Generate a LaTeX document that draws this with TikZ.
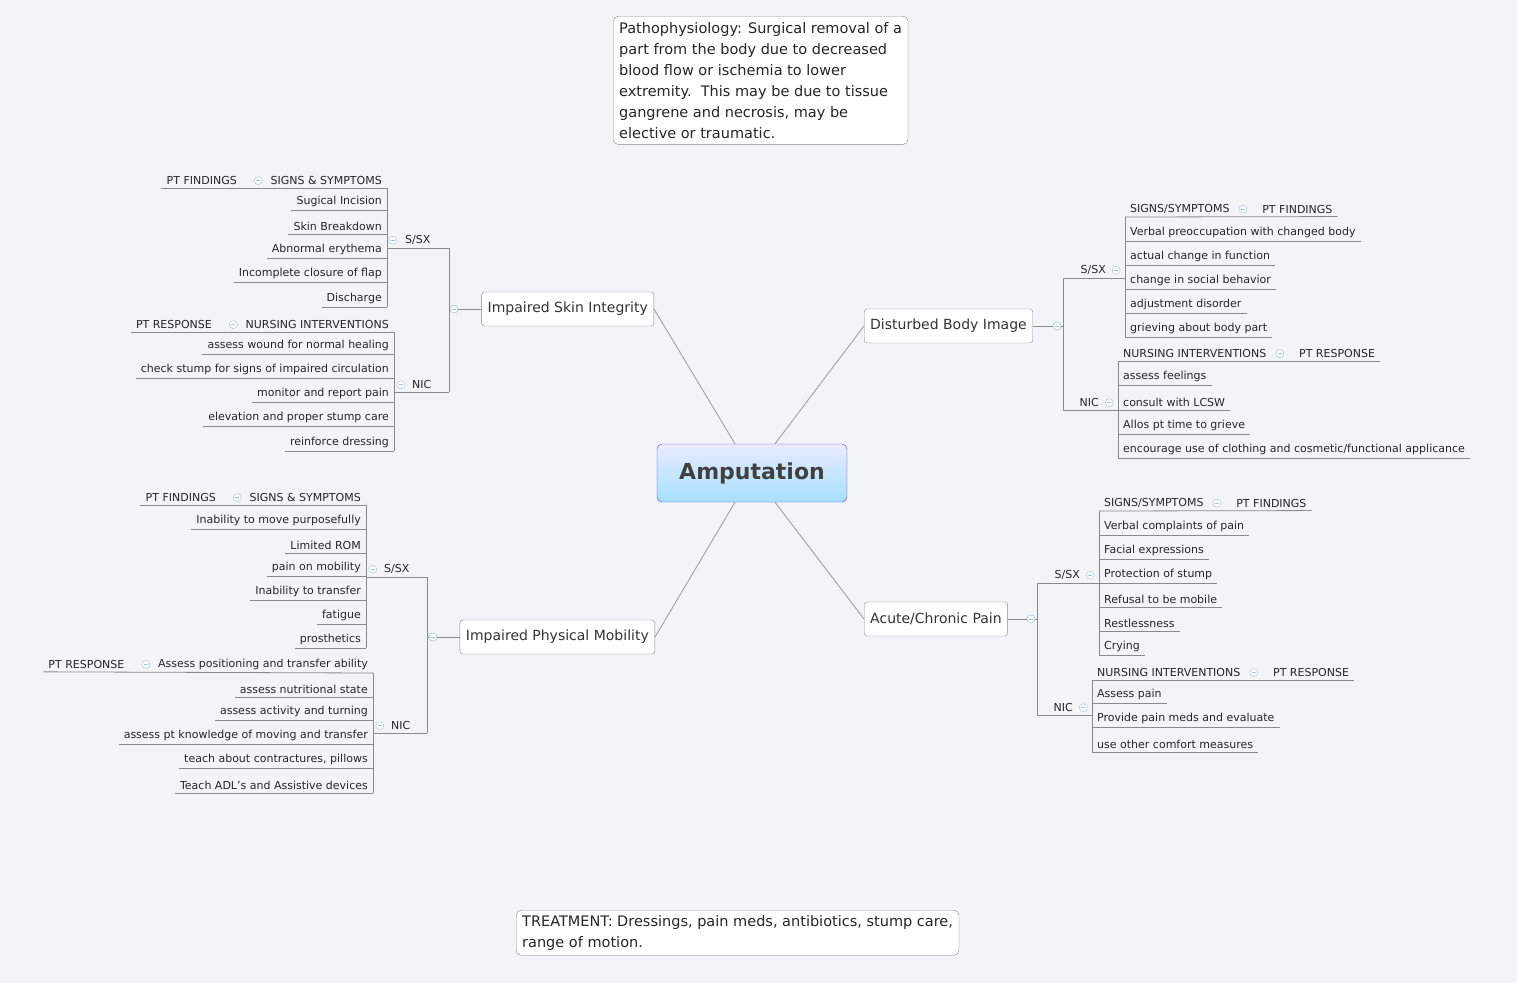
\documentclass[tikz,border=0pt]{standalone}
\usepackage{fontspec}
\setmainfont{DejaVu Sans}
\usetikzlibrary{positioning}
\definecolor{bg}{HTML}{F2F4F8}
\definecolor{ln}{HTML}{8A8A8A}
\definecolor{dotc}{HTML}{9DBFE3}
\tikzset{
  uline/.style={draw=ln, line width=0.8pt},
  link/.style={draw=ln!80, line width=0.9pt},
  hdr/.style={inner xsep=5pt, inner ysep=3pt, font=\fontsize{11}{13}\selectfont, text=black!85},
  leaf/.style={hdr, append after command={(\tikzlastnode.south west) edge[uline] (\tikzlastnode.south east)}},
  tag/.style={hdr},
  dot/.style={circle, draw=dotc, fill=white, minimum size=8pt, inner sep=0pt,
    path picture={\draw[dotc, line width=0.8pt] ([xshift=-2pt]path picture bounding box.center) -- ([xshift=2pt]path picture bounding box.center);}},
  box/.style={rectangle, rounded corners=3pt, draw=ln, fill=white, minimum height=34pt,
    inner xsep=6pt, font=\fontsize{14}{16}\selectfont, text=black!80},
  note/.style={rectangle, rounded corners=5pt, draw=ln, fill=white, align=left,
    inner sep=6pt, font=\fontsize{14.5}{21}\selectfont, text=black!85},
  root/.style={rectangle, rounded corners=5pt, draw=blue!40!gray, top color=blue!8, bottom color=blue!35!cyan!35,
    minimum width=190pt, minimum height=58pt, font=\fontsize{22}{24}\selectfont\bfseries, text=black!75}
}
\begin{document}
\begin{tikzpicture}[x=1pt, y=-1pt]
\useasboundingbox[fill=bg] (0,0) rectangle (1517,983);

\node[note, anchor=north west] (patho) at (613,16) {Pathophysiology: Surgical removal of a\\part from the body due to decreased\\blood flow or ischemia to lower\\extremity.\ \ This may be due to tissue\\gangrene and necrosis, may be\\elective or traumatic.};
\node[note, anchor=north west, inner ysep=5pt] (treat) at (516,910) {TREATMENT: Dressings, pain meds, antibiotics, stump care,\\range of motion.};

\node[root] (amp) at (752,473) {Amputation};

% Impaired Skin Integrity
\node[box, anchor=east] (sk) at (654,309) {Impaired Skin Integrity};
\coordinate (skj) at (449,309);
\node[dot] (skd) at (454,309) {};
\node[hdr, anchor=south east] (skh2) at (387,188) {SIGNS \& SYMPTOMS};
\node[dot, left=3pt of skh2] (skhd) {};
\node[hdr, left=12pt of skhd] (skh1) {PT FINDINGS};
\draw[uline] (skh1.south west) -- (skh2.south east);
\foreach \t/\y in {Sugical Incision/210, Skin Breakdown/234, Abnormal erythema/258,
  Incomplete closure of flap/282, Discharge/307}
  \node[leaf, anchor=south east] (sk\y) at (387,\y) {\t};
\draw[uline] (skh2.south east) -- (sk307.south east);
\node[tag, anchor=south west] (sks) at (400,248) {S/SX};
\node[dot, left=3pt of sks] (sksd) {};
\draw[uline] (skh2.south east |- sks.south) -- (skj |- sks.south);
\node[hdr, anchor=south east] (skm2) at (394,332) {NURSING INTERVENTIONS};
\node[dot, left=3pt of skm2] (skmd) {};
\node[hdr, left=12pt of skmd] (skm1) {PT RESPONSE};
\draw[uline] (skm1.south west) -- (skm2.south east);
\foreach \t/\y in {assess wound for normal healing/354, check stump for signs of impaired circulation/378,
  monitor and report pain/402, elevation and proper stump care/426, reinforce dressing/451}
  \node[leaf, anchor=south east] (sk\y) at (394,\y) {\t};
\draw[uline] (skm2.south east) -- (sk451.south east);
\node[tag, anchor=south west] (skn) at (407,392) {NIC};
\node[dot, left=2pt of skn] (sknd) {};
\draw[uline] (skm2.south east |- skn.south) -- (skj |- skn.south);
\draw[uline] (skj |- sks.south) -- (skj |- skn.south);
\draw[uline] (skj) -- (sk.west);

% Impaired Physical Mobility
\node[box, anchor=east] (pm) at (655,637) {Impaired Physical Mobility};
\coordinate (pmj) at (427,637);
\node[dot] (pmd) at (433,637) {};
\node[hdr, anchor=south east] (pmh2) at (366,505) {SIGNS \& SYMPTOMS};
\node[dot, left=3pt of pmh2] (pmhd) {};
\node[hdr, left=12pt of pmhd] (pmh1) {PT FINDINGS};
\draw[uline] (pmh1.south west) -- (pmh2.south east);
\foreach \t/\y in {Inability to move purposefully/529, Limited ROM/553, pain on mobility/576,
  Inability to transfer/600, fatigue/624, prosthetics/648}
  \node[leaf, anchor=south east] (pm\y) at (366,\y) {\t};
\draw[uline] (pmh2.south east) -- (pm648.south east);
\node[tag, anchor=south west] (pms) at (379,577) {S/SX};
\node[dot, left=2pt of pms] (pmsd) {};
\draw[uline] (pmh2.south east |- pms.south) -- (pmj |- pms.south);
\node[hdr, anchor=south east] (pmm2) at (373,673) {Assess positioning and transfer ability};
\node[dot, left=3pt of pmm2] (pmmd) {};
\node[hdr, left=12pt of pmmd] (pmm1) {PT RESPONSE};
\draw[uline] (pmm1.south west) -- (pmm2.south east);
\foreach \t/\y in {assess nutritional state/697, assess activity and turning/720,
  assess pt knowledge of moving and transfer/744, {teach about contractures, pillows}/768,
  Teach ADL's and Assistive devices/793}
  \node[leaf, anchor=south east] (pm\y) at (373,\y) {\t};
\draw[uline] (pmm2.south east) -- (pm793.south east);
\node[tag, anchor=south west] (pmn) at (386,733) {NIC};
\node[dot, left=2pt of pmn] (pmnd) {};
\draw[uline] (pmm2.south east |- pmn.south) -- (pmj |- pmn.south);
\draw[uline] (pmj |- pms.south) -- (pmj |- pmn.south);
\draw[uline] (pmj) -- (pm.west);

% Disturbed Body Image
\node[box, anchor=west] (bi) at (864,326) {Disturbed Body Image};
\coordinate (bij) at (1063,326);
\node[dot] (bid) at (1057,326) {};
\node[hdr, anchor=south west] (bih1) at (1125,217) {SIGNS/SYMPTOMS};
\node[dot, right=4pt of bih1] (bihd) {};
\node[hdr, right=10pt of bihd] (bih2) {PT FINDINGS};
\draw[uline] (bih1.south west) -- (bih2.south east);
\foreach \t/\y in {Verbal preoccupation with changed body/241, actual change in function/265,
  change in social behavior/289, adjustment disorder/313, grieving about body part/337}
  \node[leaf, anchor=south west] (bi\y) at (1125,\y) {\t};
\draw[uline] (bih1.south west) -- (bi337.south west);
\node[tag, anchor=south east] (bis) at (1111,278) {S/SX};
\node[dot, right=1pt of bis] (bisd) {};
\draw[uline] (bij |- bis.south) -- (bih1.south west |- bis.south);
\node[hdr, anchor=south west] (bim1) at (1118,361) {NURSING INTERVENTIONS};
\node[dot, right=4pt of bim1] (bimd) {};
\node[hdr, right=10pt of bimd] (bim2) {PT RESPONSE};
\draw[uline] (bim1.south west) -- (bim2.south east);
\foreach \t/\y in {assess feelings/385, consult with LCSW/410, Allos pt time to grieve/434}
  \node[leaf, anchor=south west] (bi\y) at (1118,\y) {\t};
\node[leaf, anchor=south west] (bi458) at (1118,458) {encourage use of clothing and cosmetic/functional applicance};
\draw[uline] (bim1.south west) -- (bi458.south west);
\node[tag, anchor=south east] (bin) at (1104,410) {NIC};
\node[dot, right=1pt of bin] (bind) {};
\draw[uline] (bij |- bin.south) -- (bim1.south west |- bin.south);
\draw[uline] (bij |- bis.south) -- (bij |- bin.south);
\draw[uline] (bi.east) -- (bij);

% Acute/Chronic Pain
\node[box, anchor=west] (ap) at (864,619) {Acute/Chronic Pain};
\coordinate (apj) at (1037,619);
\node[dot] (apd) at (1031,619) {};
\node[hdr, anchor=south west] (aph1) at (1099,511) {SIGNS/SYMPTOMS};
\node[dot, right=4pt of aph1] (aphd) {};
\node[hdr, right=10pt of aphd] (aph2) {PT FINDINGS};
\draw[uline] (aph1.south west) -- (aph2.south east);
\foreach \t/\y in {Verbal complaints of pain/535, Facial expressions/559, Protection of stump/583,
  Refusal to be mobile/607, Restlessness/631, Crying/655}
  \node[leaf, anchor=south west] (ap\y) at (1099,\y) {\t};
\draw[uline] (aph1.south west) -- (ap655.south west);
\node[tag, anchor=south east] (aps) at (1085,583) {S/SX};
\node[dot, right=1pt of aps] (apsd) {};
\draw[uline] (apj |- aps.south) -- (aph1.south west |- aps.south);
\node[hdr, anchor=south west] (apm1) at (1092,680) {NURSING INTERVENTIONS};
\node[dot, right=4pt of apm1] (apmd) {};
\node[hdr, right=10pt of apmd] (apm2) {PT RESPONSE};
\draw[uline] (apm1.south west) -- (apm2.south east);
\foreach \t/\y in {Assess pain/703, Provide pain meds and evaluate/727, use other comfort measures/752}
  \node[leaf, anchor=south west] (ap\y) at (1092,\y) {\t};
\draw[uline] (apm1.south west) -- (ap752.south west);
\node[tag, anchor=south east] (apn) at (1078,715) {NIC};
\node[dot, right=1pt of apn] (apnd) {};
\draw[uline] (apj |- apn.south) -- (apm1.south west |- apn.south);
\draw[uline] (apj |- aps.south) -- (apj |- apn.south);
\draw[uline] (ap.east) -- (apj);

% main branches
\draw[link] (sk.east) -- ([xshift=-17pt]amp.north);
\draw[link] (bi.west) -- ([xshift=23pt]amp.north);
\draw[link] (pm.east) -- ([xshift=-17pt]amp.south);
\draw[link] (ap.west) -- ([xshift=23pt]amp.south);
\foreach \n in {skd,pmd,bid,apd} \node[dot] at (\n) {};
\end{tikzpicture}
\end{document}
